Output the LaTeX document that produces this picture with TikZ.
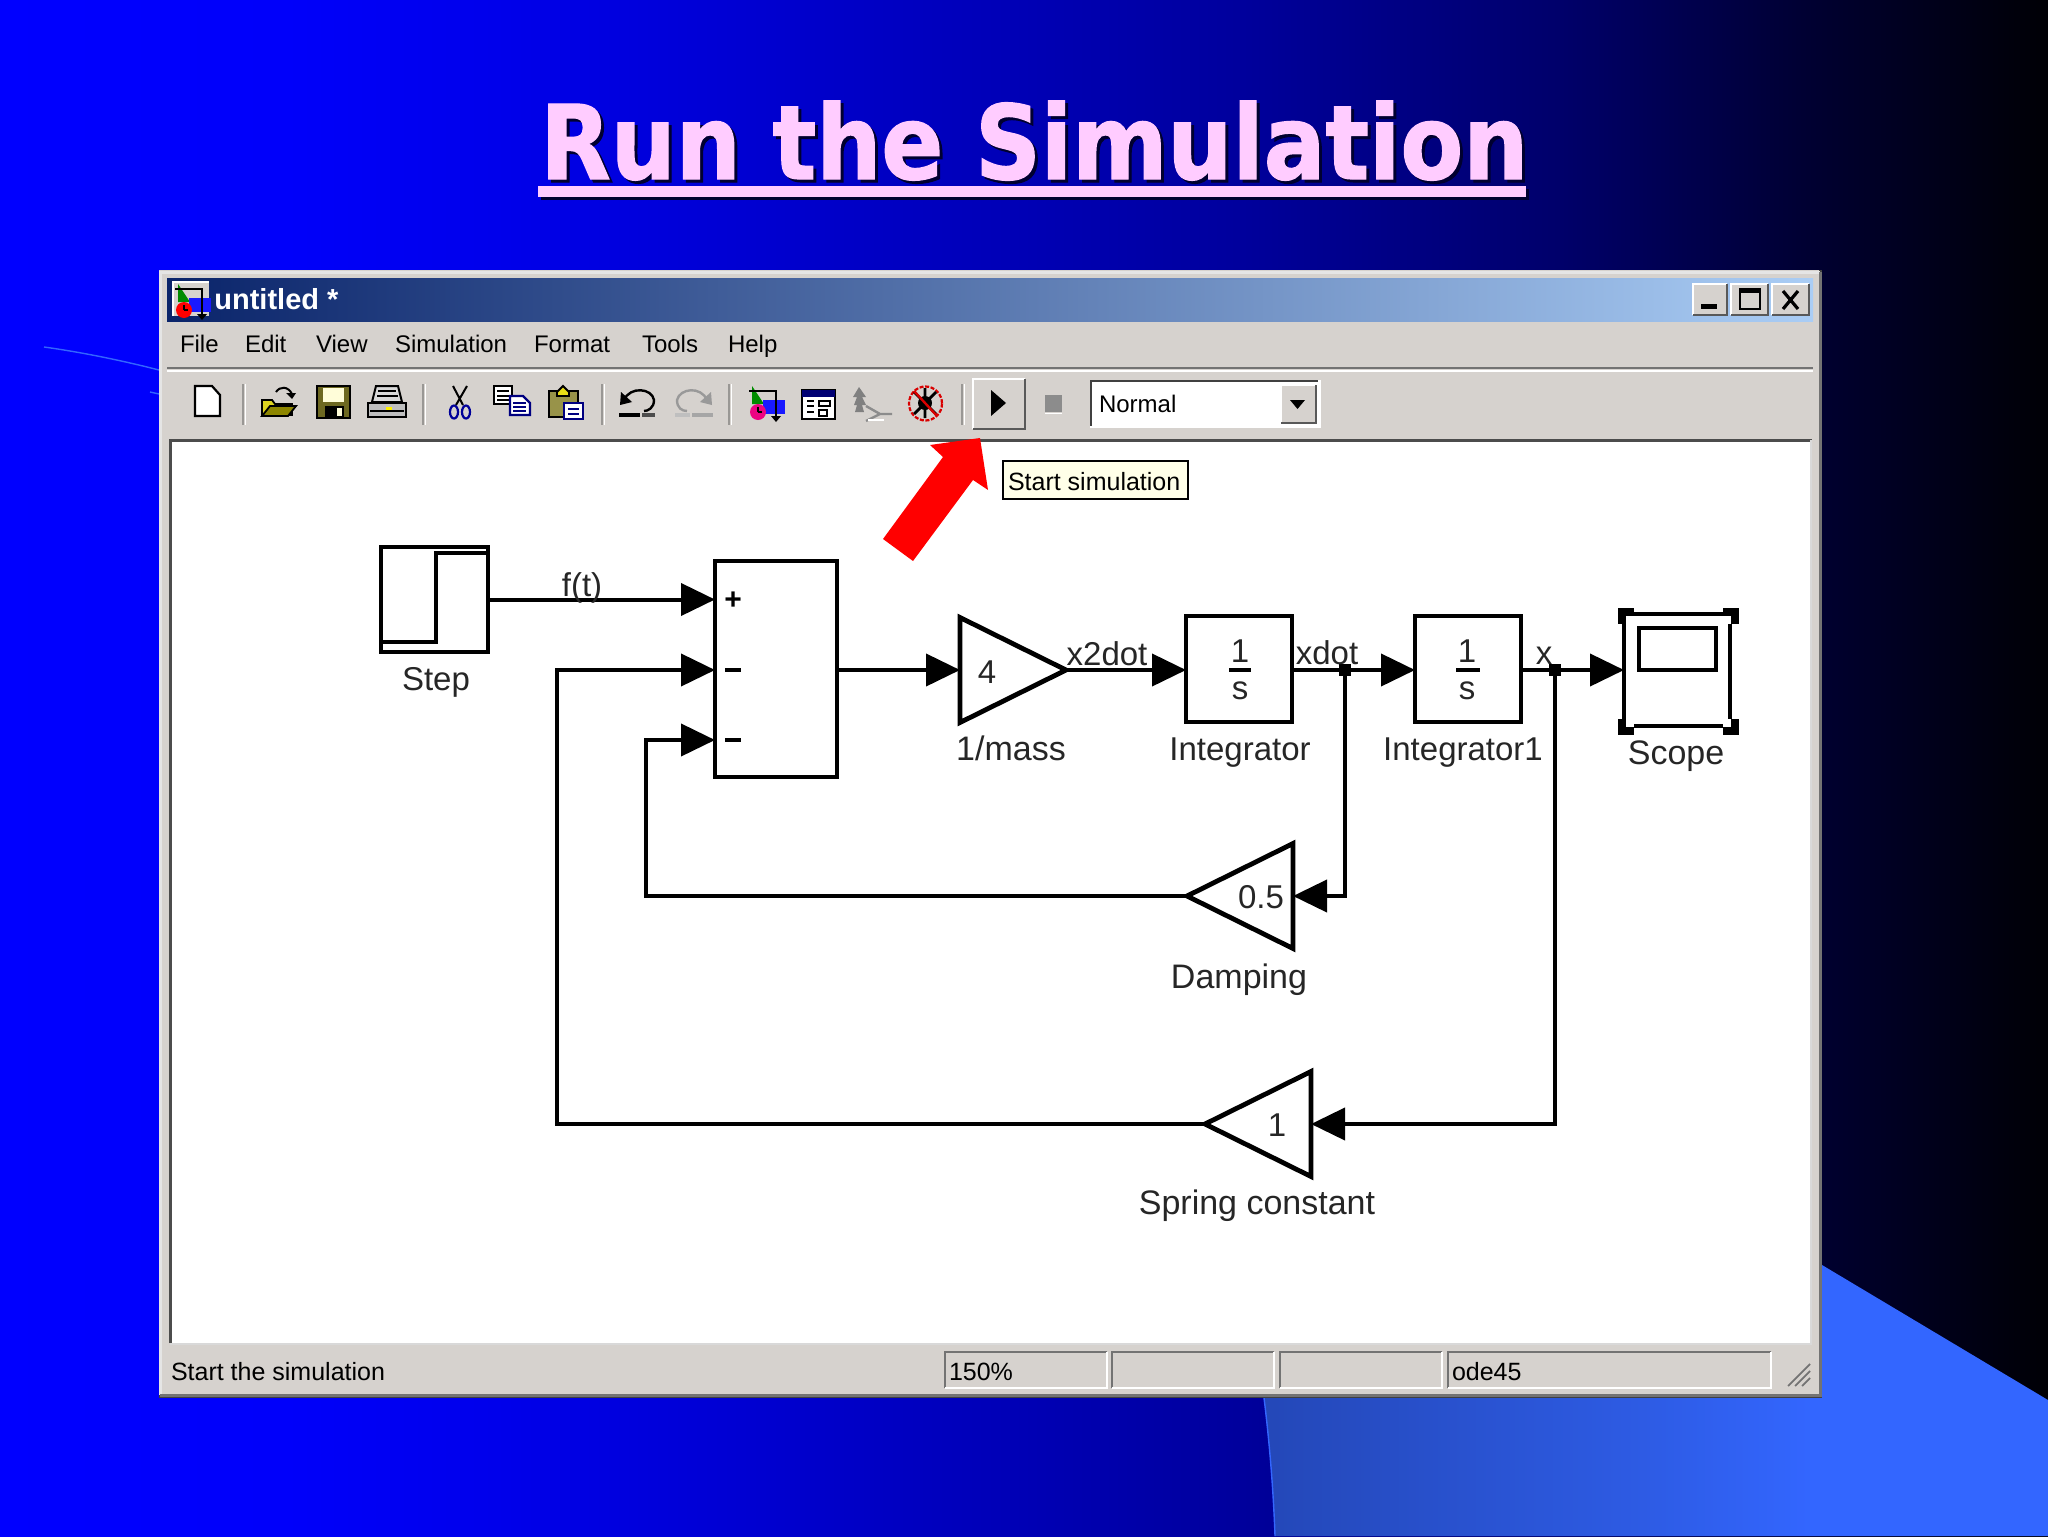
\documentclass[tikz,border=0pt]{standalone}
\usepackage{fontspec}
\setmainfont{Liberation Sans}
\newfontfamily\titlefont[FakeStretch=0.887,FakeBold=1.2]{DejaVu Sans}
\usetikzlibrary{arrows.meta,shapes.geometric}
\definecolor{winface}{HTML}{D6D2CE}
\definecolor{winshade}{HTML}{6E6A66}
\definecolor{slidepink}{HTML}{FFCCFF}
\definecolor{edgeblue}{HTML}{3366FF}
\definecolor{tipyellow}{HTML}{FFFFE8}
\definecolor{titleshade}{HTML}{000030}
\pgfdeclarehorizontalshading{slidebg}{100bp}{
 rgb(0bp)=(0,0,1);
 rgb(25bp)=(0,0,1);
 rgb(32bp)=(0,0,0.98);
 rgb(37.2bp)=(0,0,0.92);
 rgb(49.4bp)=(0,0,0.72);
 rgb(55bp)=(0,0,0.62);
 rgb(63bp)=(0,0,0.42);
 rgb(69bp)=(0,0,0.20);
 rgb(75bp)=(0,0,0.02);
 rgb(100bp)=(0,0,0.02)}
\pgfdeclarehorizontalshading{slidecorner}{100bp}{
 rgb(0bp)=(0.14,0.28,0.72);
 rgb(25bp)=(0.14,0.28,0.72);
 rgb(50bp)=(0.18,0.36,0.90);
 rgb(60bp)=(0.20,0.40,1);
 rgb(100bp)=(0.20,0.40,1)}
\tikzset{
 wire/.style={line width=2pt,draw=black,-{Triangle[length=17pt,width=16pt]}},
 block/.style={draw=black,line width=2.4pt,fill=white,inner sep=0pt,outer sep=0pt,rectangle},
 gainblock/.style={draw=black,line width=2.4pt,fill=white,isosceles triangle,isosceles triangle stretches,
   minimum width=52.5pt,minimum height=53pt,inner sep=0pt,outer sep=0pt,anchor=apex,line join=miter},
 dot/.style={fill=black,draw=none,rectangle,minimum size=6pt,inner sep=0pt},
 lbl/.style={inner sep=0pt,outer sep=0pt,font=\fontsize{16.5}{18}\selectfont,text=black!85},
 lblw/.style={inner sep=0pt,outer sep=0pt,font=\fontsize{17}{18}\selectfont,text=black!85},
 menutxt/.style={inner sep=0pt,outer sep=0pt,anchor=base west,font=\fontsize{12}{14}\selectfont,text=black},
 uitxt/.style={inner sep=0pt,outer sep=0pt,anchor=base west,font=\fontsize{12.5}{14}\selectfont,text=black},
 sepline/.style={line width=.8pt,draw=winshade!70},
}
\newcommand{\raisedbox}[4]{%
 \fill[winface] (#1,#2) rectangle (#3,#4);
 \draw[white,line width=1pt] (#1,#4) -- (#1,#2) -- (#3,#2);
 \draw[black!65,line width=1.2pt] (#1,#4) -- (#3,#4) -- (#3,#2);}
\newcommand{\sunkbox}[4]{%
 \draw[black!55,line width=.8pt] (#1,#4) -- (#1,#2) -- (#3,#2);
 \draw[white,line width=.8pt] (#1,#4) -- (#3,#4) -- (#3,#2);}
\newcommand{\libicon}[3]{%
 \begin{scope}[shift={(#1,#2)}]
 \fill[green!55!black] (3,0) -- (3,18) -- (15,18) -- cycle;
 \fill[blue!90] (14,14) rectangle (36,28);
 \draw[black,line width=1.2pt] (0,5) -- (27,5) -- (27,34);
 \fill[black] (22,30) -- (32,30) -- (27,36) -- cycle;
 \fill[#3] (9,26) circle (8);
 \draw[black,line width=.6pt] (9,26) -- (9,21) (9,26) -- (13,26);
 \end{scope}}
\begin{document}
\begin{tikzpicture}[x=0.5pt,y=-0.5pt]
\useasboundingbox (0,0) rectangle (2048,1536);
% slide background
\shade[shading=slidebg] (0,0) rectangle (2048,1536);
\shade[shading=slidecorner] (1262,1380) .. controls (1268,1430) and (1273,1480) .. (1275,1536) -- (2048,1536) -- (2048,1400) -- (1822,1265) -- (1262,1265) -- cycle;
\draw[edgeblue,line width=.7pt] (1264,1398) .. controls (1268,1430) and (1273,1480) .. (1275,1536);
\draw[edgeblue,line width=.7pt] (44,347) .. controls (80,352) and (120,360) .. (159,370);
\draw[edgeblue,line width=.7pt] (150,392) -- (159,394);
% title
\node[inner sep=0pt,anchor=base west,text=titleshade,font=\titlefont\bfseries\fontsize{51.5}{60}\selectfont] (titleshadow) at (543,182) {Run the Simulation};
\node[inner sep=0pt,anchor=base west,text=slidepink,font=\titlefont\bfseries\fontsize{51.5}{60}\selectfont] (title) at (540,179) {Run the Simulation};
\fill[titleshade] (541,189) rectangle (1529,200);
\fill[slidepink] (538,186) rectangle (1526,197);
% window
\fill[black!75] (159,270) rectangle (1822,1398);
\fill[winface] (159,270) rectangle (1819,1395);
\draw[white!90!black,line width=1.5pt] (160,1395) -- (160,272) -- (1820,272);
\draw[black!55,line width=1.5pt] (1820,272) -- (1820,1395) -- (160,1395);
\shade[left color={rgb,255:red,10;green,36;blue,106},right color={rgb,255:red,170;green,205;blue,245}]
  (167,278) rectangle (1813,321);
\fill[winface] (173,282) rectangle (209,316);
\draw[white,line width=.7pt] (173,316) -- (173,282) -- (209,282);
\libicon{175}{284}{red}
\node[inner sep=0pt,anchor=base west,text=white,font=\bfseries\fontsize{14.5}{16}\selectfont] (wintitle) at (214,309) {untitled *};
\raisedbox{1693}{284}{1727}{315}
\raisedbox{1731}{284}{1768}{315}
\raisedbox{1772}{284}{1809}{315}
\fill[black] (1701,304) rectangle (1717,309);
\draw[black,line width=1pt] (1740,290) rectangle (1760,309);
\fill[black] (1739,288) rectangle (1761,293);
\draw[black,line width=1.6pt] (1783,291) -- (1798,309) (1798,291) -- (1783,309);
% menu
\node[menutxt] (mfile) at (180,352) {File};
\node[menutxt] (medit) at (245,352) {Edit};
\node[menutxt] (mview) at (316,352) {View};
\node[menutxt] (msim) at (395,352) {Simulation};
\node[menutxt] (mformat) at (534,352) {Format};
\node[menutxt] (mtools) at (642,352) {Tools};
\node[menutxt] (mhelp) at (728,352) {Help};
\draw[black!55,line width=1.2pt] (167,368) -- (1813,368);
\draw[white,line width=1pt] (167,371) -- (1813,371);
% toolbar separators
\foreach \sx in {243,423,602,729,962} {\draw[sepline] (\sx,384) -- (\sx,425); \draw[white,line width=.4pt] (\sx+2,384) -- (\sx+2,425);}
% new
\draw[draw=black,fill=white,line width=1.1pt] (195,386) -- (212,386) -- (220,395) -- (220,416) -- (195,416) -- cycle;
% open
\draw[draw=black,fill=yellow!85!black,line width=.9pt] (262,400) -- (272,400) -- (275,404) -- (292,404) -- (292,415) -- (262,415) -- cycle;
\draw[draw=black,fill=olive,line width=.9pt] (262,416) -- (270,406) -- (296,406) -- (288,416) -- cycle;
\draw[black,line width=1pt] (276,392) .. controls (280,386) and (288,386) .. (292,394);
\fill[black] (286,393) -- (296,393) -- (292,399) -- cycle;
% save
\draw[draw=black,fill=olive!70!black,line width=1.1pt] (317,386) rectangle (350,418);
\fill[white!85!yellow] (323,388) rectangle (344,402);
\fill[black] (325,406) rectangle (344,418);
\fill[white!85!yellow] (337,408) rectangle (342,416);
% print
\draw[draw=black,fill=white!85!black,line width=1pt] (376,386) -- (398,386) -- (402,402) -- (372,402) -- cycle;
\draw[black,line width=.7pt] (378,391) -- (396,391) (377,396) -- (398,396);
\draw[draw=black,fill=white!75!black,line width=1.1pt] (368,403) rectangle (406,417);
\fill[yellow] (386,407) rectangle (392,410);
\draw[black,line width=.8pt] (370,411) -- (404,411);
% cut
\draw[black,line width=1pt] (453,386) -- (463,405) (467,386) -- (456,405);
\draw[blue!60!black,line width=1.1pt] (454,412) ellipse (4 and 6.5) (466,412) ellipse (4 and 6.5);
% copy
\draw[draw=black,fill=white,line width=.9pt] (494,386) rectangle (512,404);
\draw[black,line width=.6pt] (497,391) -- (509,391) (497,396) -- (509,396) (497,400) -- (509,400);
\draw[draw=blue!50!black,fill=white,line width=1.1pt] (510,396) -- (523,396) -- (530,403) -- (530,415) -- (510,415) -- cycle;
\draw[blue!50!black,line width=.6pt] (513,403) -- (526,403) (513,407) -- (526,407) (513,411) -- (526,411);
% paste
\draw[draw=black,fill=olive!65!white!80!black,line width=1.1pt] (549,391) rectangle (578,417);
\draw[draw=black,fill=yellow!90!black,line width=.9pt] (557,392) -- (563,386) -- (569,392) -- (569,396) -- (557,396) -- cycle;
\draw[draw=blue!50!black,fill=white,line width=1.1pt] (564,403) rectangle (583,419);
\draw[blue!50!black,line width=.7pt] (568,409) -- (579,409) (568,414) -- (579,414);
% undo
\draw[black,line width=1.2pt] (624,400) .. controls (630,386) and (652,388) .. (654,400) .. controls (654,408) and (648,411) .. (644,411);
\fill[black] (621,392) -- (632,402) -- (620,405) -- cycle;
\fill[black] (619,413) rectangle (640,417);
\fill[black!70] (642,413) rectangle (655,417);
% redo (disabled)
\draw[black!40,line width=1.2pt] (707,400) .. controls (701,386) and (680,388) .. (677,400) .. controls (677,408) and (682,411) .. (687,411);
\fill[black!40] (711,392) -- (700,402) -- (712,405) -- cycle;
\fill[black!35] (692,413) rectangle (713,417);
\fill[black!25] (675,413) rectangle (690,417);
% library, explorer, debug
\libicon{749}{386}{magenta!90!red}
\draw[draw=black,fill=white,line width=1pt] (802,390) rectangle (835,419);
\fill[blue!45!black] (802,390) rectangle (835,397);
\draw[black,line width=.9pt] (807,401) -- (814,401) (807,406) -- (814,406) (807,412) -- (814,412) (819,401) rectangle (830,406) (819,410) rectangle (827,416);
\fill[black!50] (859,387) -- (866,397) -- (862,397) -- (866,405) -- (862,405) -- (864,412) -- (855,412) -- (857,405) -- (854,405) -- (857,397) -- (853,397) -- cycle;
\draw[black!45,line width=1.2pt] (866,406) -- (880,414) -- (892,414) (866,421) -- (880,414);
\draw[white,line width=.8pt] (868,420) -- (884,420);
\draw[red!85!black,line width=1.1pt,dash pattern=on 2pt off .8pt] (925.5,403.5) ellipse (16.5 and 17);
\fill[black] (925,403) circle (7);
\draw[black,line width=1.4pt] (914,392) -- (936,414) (936,392) -- (914,414) (925,388) -- (925,418);
\draw[red!85!black,line width=1.2pt] (914,391) -- (937,416);
% run button
\raisedbox{973}{379}{1025}{429}
\fill[black] (991,390) -- (1006,403) -- (991,416) -- cycle;
\fill[black!45] (1045,395) rectangle (1062,412);
\draw[white,line width=.5pt] (1045,413) -- (1062,413);
% combo
\fill[white] (1090,380) rectangle (1320,427);
\draw[black!75,line width=1.4pt] (1091,427) -- (1091,381) -- (1318,381);
\draw[white,line width=1pt] (1090,427) -- (1320,427) -- (1320,380);
\raisedbox{1281}{385}{1316}{423}
\fill[black] (1290,400) -- (1305,400) -- (1297.5,409) -- cycle;
\node[menutxt] (modebox) at (1099,412) {Normal};
% canvas
\fill[white] (170,440) rectangle (1810,1343);
\draw[black!70,line width=1.5pt] (170,1343) -- (170,440) -- (1812,440);
\draw[white!85!black,line width=1.2pt] (170,1344) -- (1811,1344) -- (1811,440);
% red arrow
\fill[red] (980,438) -- (988,490) -- (973,480) -- (913,561) -- (883,539) -- (943,457) -- (930,445) -- cycle;
% tooltip
\node[draw=black,line width=1pt,fill=tipyellow,inner sep=0pt,minimum width=92.5pt,minimum height=19pt,anchor=north west,outer sep=0pt] (tipbox) at (1003,461) {};
\node[uitxt] (tiptext) at (1008,490) {Start simulation};
% status bar
\sunkbox{945}{1352}{1107}{1388}
\sunkbox{1112}{1352}{1274}{1388}
\sunkbox{1280}{1352}{1442}{1388}
\sunkbox{1448}{1352}{1771}{1388}
\node[uitxt] (statustxt) at (171,1380) {Start the simulation};
\node[uitxt] (zoomtxt) at (949,1380) {150\%};
\node[uitxt] (solvertxt) at (1452,1380) {ode45};
\draw[black!55,line width=.9pt] (1788,1386) -- (1810,1364) (1795,1386) -- (1810,1371) (1802,1386) -- (1810,1378);
% --- block diagram ---
\node[block,minimum width=53.5pt,minimum height=52.5pt] (step) at (434.5,599.5) {};
\draw[line width=2pt,black,line join=miter] (383,642) -- (436,642) -- (436,553) -- (486,553);
\node[block,minimum width=61pt,minimum height=108pt] (sum) at (776,669) {};
\node[gainblock,shape border rotate=0] (gainone) at (1066,670) {};
\node[block,minimum width=53pt,minimum height=53pt] (intone) at (1239,669) {};
\node[block,minimum width=53pt,minimum height=53pt] (inttwo) at (1468,669) {};
\node[block,minimum width=53pt,minimum height=56pt] (scope) at (1677,670) {};
\node[block,line width=2pt,minimum width=38.5pt,minimum height=21pt] (scopescreen) at (1677.5,649) {};
\foreach \hx/\hy/\ix/\iy in {1626/616/1630/620,1731/616/1727/620,1626/727/1630/723,1731/727/1727/723}{
 \fill[black] (\hx-8,\hy-8) rectangle (\hx+8,\hy+8);
 \fill[white] (\ix-4,\iy-4) rectangle (\ix+4,\iy+4);}
\node[gainblock,shape border rotate=180] (damp) at (1187,896) {};
\node[gainblock,shape border rotate=180] (spring) at (1205,1124) {};
\coordinate (portb) at (715,670);
\coordinate (portc) at (715,740);
\coordinate (porta) at (715,600);
\coordinate (bendb) at (557,670);
\coordinate (bendc) at (646,740);
\node[dot] (jxdot) at (1345,670) {};
\node[dot] (jx) at (1555,670) {};
\draw[wire] (step.east) -- (step.east -| porta);
\draw[wire] (spring.apex) -| (bendb) -- (portb);
\draw[wire] (damp.apex) -| (bendc) -- (portc);
\draw[wire] (sum.east |- gainone.lower side) -- (gainone.lower side);
\draw[wire] (gainone.apex) -- (gainone.apex -| intone.west);
\draw[wire] (intone.east |- jxdot) -- (inttwo.west |- jxdot);
\draw[wire] (inttwo.east |- jx) -- (scope.west |- jx);
\draw[wire] (jxdot.center) |- (damp.lower side);
\draw[wire] (jx.center) |- (spring.lower side);
% block texts
\node[lbl,anchor=base] (lstep) at (436,690) {Step};
\node[lbl,anchor=base] (lft) at (582,596) {f(t)};
\node[lbl,font=\bfseries\fontsize{15}{16}\selectfont,text=black] (plus) at (733,601) {+};
\fill[black] (725,668) rectangle (741,672);
\fill[black] (725,738) rectangle (741,742);
\node[lbl,anchor=base] (ggain) at (987,683) {4};
\node[lblw,anchor=base] (lmass) at (1011,760) {1/mass};
\node[lbl,anchor=base] (lxtwo) at (1107,665) {x2dot};
\node[lbl,anchor=base] (aone) at (1240,662) {1};
\draw[line width=1.6pt,black] (1229,670) -- (1251,670);
\node[lbl,anchor=base] (bone) at (1240,699) {s};
\node[lbl,anchor=base] (atwo) at (1467,662) {1};
\draw[line width=1.6pt,black] (1456,670) -- (1480,670);
\node[lbl,anchor=base] (btwo) at (1467,699) {s};
\node[lbl,anchor=base] (lint) at (1240,760) {Integrator};
\node[lbl,anchor=base] (linto) at (1463,760) {Integrator1};
\node[lblw,anchor=base] (lscope) at (1676,764) {Scope};
\node[lbl,anchor=base] (lxdot) at (1327,664) {xdot};
\node[lbl,anchor=base] (lx) at (1544,664) {x};
\node[lbl,anchor=base] (gdamp) at (1261,908) {0.5};
\node[lblw,anchor=base] (ldamp) at (1239,988) {Damping};
\node[lbl,anchor=base] (gspring) at (1277,1136) {1};
\node[lblw,anchor=base] (lspring) at (1257,1214) {Spring constant};
\end{tikzpicture}
\end{document}
